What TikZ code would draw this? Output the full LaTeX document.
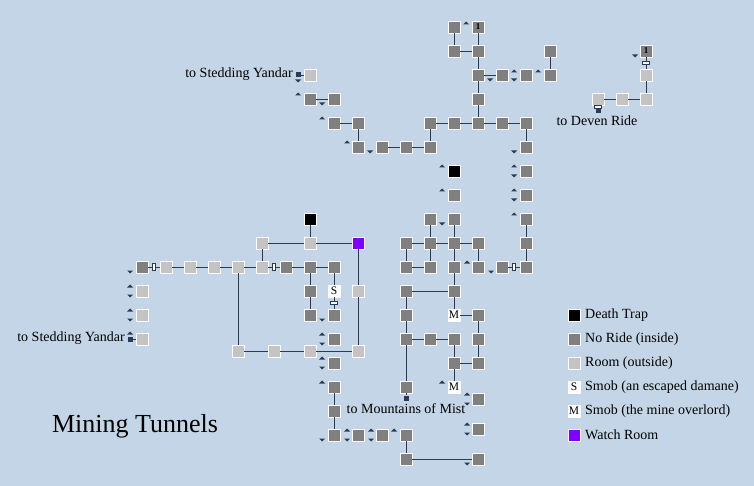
\documentclass[tikz,border=0pt]{standalone}
\usepackage{fontspec}
\setmainfont{Liberation Serif}
\definecolor{bg}{HTML}{C3D5E6}
\definecolor{ln}{HTML}{2B3A55}
\definecolor{dk}{HTML}{808080}
\definecolor{lt}{HTML}{C4C4C4}
\definecolor{pu}{HTML}{8000FF}
\tikzset{
 room/.style={draw=white,line width=0.8pt,minimum size=12pt,inner sep=0pt,font=\fontsize{11.5}{11.5}\selectfont},
 D/.style={room,fill=dk},L/.style={room,fill=lt},B/.style={room,fill=black},P/.style={room,fill=pu},W/.style={room,fill=white},
 edge/.style={draw=ln,line width=0.9pt},
 doorh/.style={draw=ln,fill=white,line width=0.6pt,minimum width=3pt,minimum height=7pt,inner sep=0pt},
 doorv/.style={draw=ln,fill=white,line width=0.6pt,minimum width=7pt,minimum height=3pt,inner sep=0pt},
 exitm/.style={fill=ln,minimum size=5pt,inner sep=0pt},
 lbl/.style={font=\fontsize{14}{14}\selectfont,text=black,inner sep=0pt},
 legt/.style={lbl,anchor=west}
}
\newcommand{\upa}[2]{\fill[ln] (#1-3,#2+1.5)--(#1+3,#2+1.5)--(#1,#2-1.5)--cycle;}
\newcommand{\dna}[2]{\fill[ln] (#1-3,#2-1.5)--(#1+3,#2-1.5)--(#1,#2+1.5)--cycle;}
\begin{document}
\begin{tikzpicture}[x=1pt,y=-1pt]
\fill[bg] (0,0) rectangle (754,486);
\useasboundingbox (0,0) rectangle (754,486);
% dark rooms
\foreach \x/\y in {454/27,454/51,478/51,478/75,502/75,526/75,550/75,550/51,310/99,334/99,334/123,358/123,358/147,382/147,406/147,430/147,430/123,454/123,478/123,502/123,526/123,478/99,526/147,526/171,454/195,526/195,
430/219,454/219,526/219,406/243,430/243,454/243,478/243,526/243,406/267,430/267,454/267,478/267,502/267,526/267,406/291,454/291,406/315,478/315,406/339,430/339,454/339,478/339,454/363,478/363,406/387,478/399,478/429,406/435,406/459,478/459,
142/267,286/267,310/267,334/267,310/291,310/315,334/315,334/339,334/363,334/387,334/411,334/435,358/435,382/435}
 \node[D] (n\x-\y) at (\x,\y) {};
\foreach \x/\y in {310/75,646/75,646/99,622/99,598/99,262/243,310/243,166/267,190/267,214/267,238/267,262/267,142/291,142/315,142/339,358/291,238/351,274/351,310/351,358/351}
 \node[L] (n\x-\y) at (\x,\y) {};
\node[D,font=\fontsize{9}{9}\selectfont\bfseries] (n478-27) at (478,27) {1};
\node[D,font=\fontsize{9}{9}\selectfont\bfseries] (n646-51) at (646,51) {1};
\node[B] (n454-171) at (454,171) {};
\node[B] (n310-219) at (310,219) {};
\node[P] (n358-243) at (358,243) {};
\node[W] (n334-291) at (334,291) {S};
\node[W] (n454-315) at (454,315) {M};
\node[W] (n454-387) at (454,387) {M};
% edges
\foreach \a/\b in {454-27/454-51,478-27/478-51,454-51/478-51,478-51/478-75,478-75/502-75,550-51/550-75,478-75/478-99,478-99/478-123,
310-99/334-99,334-123/358-123,358-123/358-147,382-147/406-147,406-147/430-147,430-123/430-147,430-123/454-123,454-123/478-123,478-123/502-123,502-123/526-123,526-123/526-147,
646-75/646-99,622-99/646-99,598-99/622-99,
406-243/430-243,430-243/454-243,454-243/478-243,430-219/430-243,454-219/454-243,406-243/406-267,430-243/430-267,406-267/430-267,454-243/454-267,478-243/478-267,526-219/526-243,526-243/526-267,454-267/454-291,
406-291/454-291,406-291/406-315,454-291/454-315,454-315/478-315,478-315/478-339,406-315/406-339,406-339/430-339,430-339/454-339,478-339/478-363,454-339/454-363,454-363/478-363,406-339/406-387,454-363/454-387,406-435/406-459,406-459/478-459,
166-267/190-267,190-267/214-267,214-267/238-267,238-267/262-267,286-267/310-267,310-267/334-267,262-243/262-267,262-243/310-243,310-243/358-243,310-219/310-243,358-243/358-291,358-291/358-351,238-267/238-351,238-351/274-351,274-351/310-351,310-351/358-351,310-267/310-291,310-291/310-315,334-267/334-291,334-387/334-411,334-411/334-435}
 \draw[edge] (n\a) -- (n\b);
\draw[edge] (n142-267) -- node[doorh]{} (n166-267);
\draw[edge] (n262-267) -- node[doorh]{} (n286-267);
\draw[edge] (n502-267) -- node[doorh]{} (n526-267);
\draw[edge] (n334-291) -- node[doorv]{} (n334-315);
\draw[edge] (n646-51) -- node[doorv]{} (n646-75);
% exits
\node[exitm] (e1) at (298,75) {}; \draw[edge] (e1) -- (n310-75);
\node[exitm] (e2) at (130,339) {}; \draw[edge] (e2) -- (n142-339);
\node[exitm] (e3) at (406,398) {}; \draw[edge] (n406-387) -- (e3);
\node[exitm] (e4) at (598,111) {}; \draw[edge] (n598-99) -- node[doorv,pos=0.5]{} (e4);
\node[lbl,anchor=east] (t1) at (293,74) {to Stedding Yandar};
\node[lbl,anchor=east] (t2) at (125,338) {to Stedding Yandar};
\node[lbl] (t3) at (406,409) {to Mountains of Mist};
\node[lbl] (t4) at (597,121) {to Deven Ride};
\node[font=\fontsize{26}{26}\selectfont,inner sep=0pt] (title) at (135,426) {Mining Tunnels};
% arrows
\upa{466}{23}\dna{490}{80}\upa{514}{71}\dna{514}{80}\upa{538}{71}\dna{298}{81}
\upa{298}{94}\dna{322}{104}\upa{322}{118}\upa{347}{142}\dna{370}{152}\dna{514}{152}
\upa{442}{166}\upa{514}{166}\dna{514}{176}\upa{442}{190}\upa{514}{190}\dna{514}{200}
\dna{442}{224}\upa{514}{214}\upa{467}{262}\dna{491}{272}\upa{442}{382}
\upa{467}{394}\dna{467}{404}\upa{467}{424}\dna{467}{434}\upa{394}{430}\dna{467}{464}
\dna{130}{272}\upa{130}{286}\dna{130}{296}\upa{130}{310}\dna{130}{320}\upa{130}{333}
\dna{322}{320}\upa{322}{334}\dna{322}{344}\upa{322}{358}\dna{322}{368}\upa{322}{382}
\dna{322}{440}\upa{347}{430}\dna{347}{440}\upa{371}{430}\dna{371}{440}\dna{635}{56}
% legend
\node[B] (l1) at (574,315) {}; \node[legt] at (585,315) {Death Trap};
\node[D] (l2) at (574,339) {}; \node[legt] at (585,339) {No Ride (inside)};
\node[L] (l3) at (574,363) {}; \node[legt] at (585,363) {Room (outside)};
\node[W] (l4) at (574,387) {S}; \node[legt] at (585,387) {Smob (an escaped damane)};
\node[W] (l5) at (574,411) {M}; \node[legt] at (585,411) {Smob (the mine overlord)};
\node[P] (l6) at (574,435) {}; \node[legt] at (585,435) {Watch Room};
\end{tikzpicture}
\end{document}
